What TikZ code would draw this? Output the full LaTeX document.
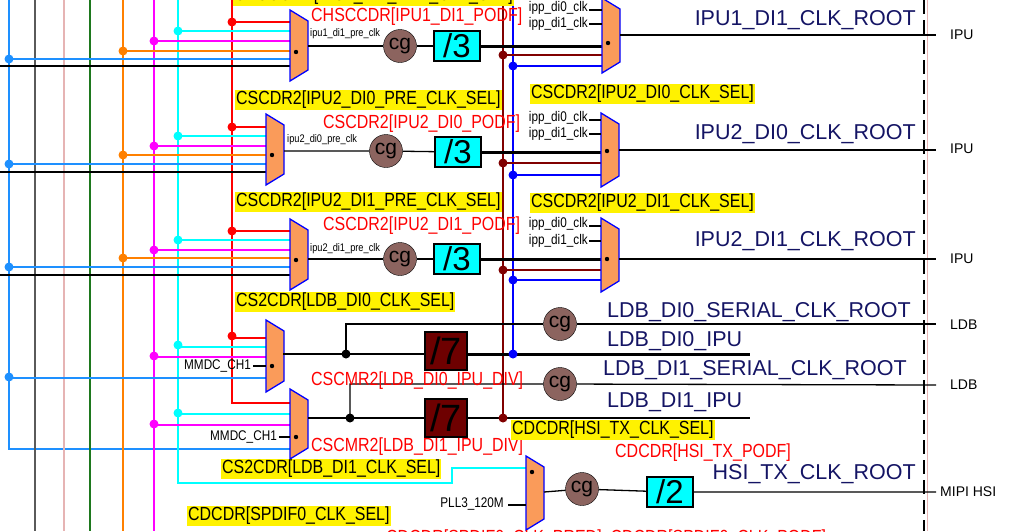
\documentclass[tikz,border=0pt]{standalone}
\usepackage{fontspec}
\setmainfont{Liberation Sans}
\newfontfamily\nar[FakeStretch=0.84]{Liberation Sans}
\usetikzlibrary{shapes.geometric}
\definecolor{cb}{RGB}{30,144,255}
\definecolor{cgr}{RGB}{90,90,90}
\definecolor{cpk}{RGB}{230,180,180}
\definecolor{cdg}{RGB}{30,120,30}
\definecolor{cor}{RGB}{255,128,0}
\definecolor{cmg}{RGB}{255,0,255}
\definecolor{ccy}{RGB}{0,255,255}
\definecolor{crd}{RGB}{255,0,0}
\definecolor{cgn}{RGB}{0,230,0}
\definecolor{cbr}{RGB}{128,0,0}
\definecolor{cbl}{RGB}{0,0,255}
\definecolor{muxf}{RGB}{250,155,90}
\definecolor{cgf}{RGB}{140,100,95}
\definecolor{divr}{RGB}{110,0,0}
\definecolor{navy}{RGB}{20,20,100}
\newcommand\muxat[4]{\draw[muxb] (#1,#2) -- (#1+18,#2+11) -- (#1+18,#2+#3-11) -- (#1,#2+#3) -- cycle; \fill (#1+6,#4) circle (2.2);}
\begin{document}
\begin{tikzpicture}[x=1pt,y=-1pt,
  wl/.style={line width=1.4},
  muxb/.style={draw=cbl,fill=muxf,line width=1.3},
  dot/.style={circle,fill,inner sep=0,minimum size=9},
  ylab/.style={fill=yellow,inner sep=1pt,anchor=west,font=\nar\fontsize{19}{19}\selectfont},
  rlab/.style={text=crd,inner sep=1pt,anchor=west,font=\nar\fontsize{19}{19}\selectfont},
  slab/.style={inner sep=1pt,font=\nar\fontsize{11}{11}\selectfont},
  plab/.style={inner sep=1pt,anchor=east,font=\nar\fontsize{14}{14}\selectfont},
  nlab/.style={text=navy,inner sep=1pt,font=\fontsize{21.5}{21.5}\selectfont},
  olab/.style={inner sep=1pt,anchor=west,font=\fontsize{14}{14}\selectfont},
  cgn/.style={circle,draw,fill=cgf,minimum size=33,inner sep=0,font=\fontsize{21}{21}\selectfont},
  divc/.style={draw,line width=2,fill=ccy,minimum width=46,minimum height=30,inner sep=0,font=\fontsize{33}{33}\selectfont},
  divd/.style={draw,line width=2,fill=divr,minimum width=42,minimum height=38,inner sep=0,font=\fontsize{38}{38}\selectfont},
  thk/.style={line width=3},
  thn/.style={line width=1.3}]
\useasboundingbox (0,0) rectangle (1011,531);
% dashed boundary
\draw[cpk,line width=0.6] (927,0) -- (927,531);
\draw[line width=1.5,dash pattern=on 14 off 6] (924,0) -- (924,531);
% left verticals
\draw[cb,wl] (9,0) -- (9,449) -- (290,449);
\draw[cgr,wl] (35,0) -- (35,531);
\draw[cpk,wl] (64,0) -- (64,531);
\draw[cdg,wl] (90,0) -- (90,531);
\draw[cor,wl] (123,0) -- (123,531);
\draw[cmg,wl] (154,0) -- (154,531);
\draw[ccy,wl] (178,0) -- (178,483) -- (452,483) -- (452,468) -- (526,468);
\draw[crd,wl] (232,0) -- (232,403) -- (290,403);
% feeds
\foreach \yr/\yc/\ym/\yo/\yb/\yg/\xm in {22/31/41/51/59/66/290, 127/136/146/155/164/172/266, 231/240/250/258/267/275/290}{
  \draw[crd,wl] (232,\yr) -- (\xm,\yr); \node[dot,crd] at (232,\yr) {};
  \draw[ccy,wl] (178,\yc) -- (\xm,\yc); \node[dot,ccy] at (178,\yc) {};
  \draw[cmg,wl] (154,\ym) -- (\xm,\ym); \node[dot,cmg] at (154,\ym) {};
  \draw[cor,wl] (123,\yo) -- (\xm,\yo); \node[dot,cor] at (123,\yo) {};
  \draw[cb,wl] (9,\yb) -- (\xm,\yb); \node[dot,cb] at (9,\yb) {};
  \draw[cgn,wl] (0,\yg) -- (\xm,\yg);
}
\draw[crd,wl] (232,338) -- (266,338); \node[dot,crd] at (232,336) {};
\draw[ccy,wl] (178,347) -- (266,347); \node[dot,ccy] at (178,345) {};
\draw[cmg,wl] (154,357) -- (266,357); \node[dot,cmg] at (154,356) {};
\draw[cb,wl] (9,378) -- (266,378); \node[dot,cb] at (9,377) {};
\draw[ccy,wl] (178,414) -- (290,414); \node[dot,ccy] at (178,413) {};
\draw[cmg,wl] (154,425) -- (290,425); \node[dot,cmg] at (154,424) {};
% right buses
\draw[cbr,wl] (503,0) -- (503,418);
\draw[cbl,wl] (513,0) -- (513,354);
\foreach \yb/\yu in {55/66,163/175,270/280}{
  \draw[cbr,wl] (503,\yb) -- (602,\yb); \node[dot,cbr] at (503,\yb) {};
  \draw[cbl,wl] (513,\yu) -- (602,\yu); \node[dot,cbl] at (513,\yu) {};
}
% pre-clock muxes
\muxat{290}{10}{71}{52}
\muxat{266}{114}{71}{155}
\muxat{290}{219}{71}{260}
\node[slab,anchor=west] at (309,34) {ipu1\_di1\_pre\_clk};
\node[slab,anchor=west] at (286,140) {ipu2\_di0\_pre\_clk};
\node[slab,anchor=west] at (309,249) {ipu2\_di1\_pre\_clk};
\node[cgn] (cgA) at (400,46) {cg};
\node[cgn] (cgB) at (386,151) {cg};
\node[cgn] (cgC) at (400,259) {cg};
\node[divc] (dA) at (457,46) {/3};
\node[divc] (dB) at (458,152) {/3};
\node[divc] (dC) at (457,259) {/3};
\draw[thn] (308,46) -- (cgA) -- (dA);
\draw[thn] (284,151) -- (cgB) -- (dB);
\draw[thn] (308,259) -- (cgC) -- (dC);
\draw[thk] (dA) -- (602,46);
\draw[thk] (dB) -- (601,152);
\draw[thk] (dC) -- (601,259);
% IPU muxes
\muxat{602}{-2}{75}{43}
\muxat{601}{113}{74}{151}
\muxat{601}{218}{74}{259}
\foreach \ya/\yb/\xx in {8/24/602,118/134/601,224/241/601}{
  \node[plab] at (589,\ya) {ipp\_di0\_clk}; \draw[thn] (589,\ya+2) -- (\xx,\ya+2);
  \node[plab] at (589,\yb) {ipp\_di1\_clk}; \draw[thn] (589,\yb) -- (\xx,\yb);
}
\draw[thn,line width=1.5] (620,35) -- (936,35);
\draw[thn,line width=1.5] (619,150) -- (936,150);
\draw[thn,line width=1.5] (619,259) -- (936,259);
\node[nlab,anchor=east] at (917,20) {IPU1\_DI1\_CLK\_ROOT};
\node[nlab,anchor=east] at (917,134) {IPU2\_DI0\_CLK\_ROOT};
\node[nlab,anchor=east] at (917,241) {IPU2\_DI1\_CLK\_ROOT};
\node[olab] at (949,35) {IPU};
\node[olab] at (949,149) {IPU};
\node[olab] at (949,259) {IPU};
% labels top part
\node[ylab] at (233,-4) {CHSCCDR[IPU1\_DI1\_PRE\_CLK\_SEL]};
\node[rlab] at (310,17) {CHSCCDR[IPU1\_DI1\_PODF]};
\node[ylab] at (235,100) {CSCDR2[IPU2\_DI0\_PRE\_CLK\_SEL]};
\node[rlab] at (322,124) {CSCDR2[IPU2\_DI0\_PODF]};
\node[ylab] at (235,202) {CSCDR2[IPU2\_DI1\_PRE\_CLK\_SEL]};
\node[rlab] at (322,226) {CSCDR2[IPU2\_DI1\_PODF]};
\node[ylab] at (530,94) {CSCDR2[IPU2\_DI0\_CLK\_SEL]};
\node[ylab] at (530,203) {CSCDR2[IPU2\_DI1\_CLK\_SEL]};
% LDB muxes
\muxat{266}{320}{72}{366}
\muxat{290}{389}{70}{437}
\node[plab] at (252,366) {MMDC\_CH1}; \draw[thn] (253,366) -- (266,366);
\node[plab] at (278,437) {MMDC\_CH1}; \draw[thn] (279,437) -- (290,437);
\node[divd,text=black] (d7a) at (446,351) {/7};
\node[divd,text=black] (d7b) at (446,418) {/7};
\node[cgn] (cgD) at (560,324) {cg};
\node[cgn] (cgE) at (560,384) {cg};
\coordinate (jA) at (346,354);
\coordinate (jB) at (350,418);
\draw[thn] (283,354) -- (jA) -- (d7a.west |- jA);
\draw[thk] (d7a.east |- jA) -- (750,354);
\draw[thn] (jA) |- (cgD) -- (936,324);
\draw[thn] (308,418) -- (jB) -- (d7b.west |- jB);
\draw[thn,line width=1.8] (d7b.east |- jB) -- (750,418);
\draw[thn] (jB) |- (cgE) -- (936,385);
\fill (jA) circle (4.5); \fill (jB) circle (4.5);
\node[dot,cbl] at (513,354) {};
\node[dot,cbr] at (503,418) {};
\node[nlab,anchor=west] at (606,312) {LDB\_DI0\_SERIAL\_CLK\_ROOT};
\node[nlab,anchor=west] at (606,341) {LDB\_DI0\_IPU};
\node[nlab,anchor=west] at (602,370) {LDB\_DI1\_SERIAL\_CLK\_ROOT};
\node[nlab,anchor=west] at (606,402) {LDB\_DI1\_IPU};
\node[olab] at (949,325) {LDB};
\node[olab] at (949,385) {LDB};
\node[ylab] at (235,302) {CS2CDR[LDB\_DI0\_CLK\_SEL]};
\node[rlab] at (310,381) {CSCMR2[LDB\_DI0\_IPU\_DIV]};
\node[rlab] at (310,447) {CSCMR2[LDB\_DI1\_IPU\_DIV]};
\node[ylab] at (221,469) {CS2CDR[LDB\_DI1\_CLK\_SEL]};
\node[ylab] at (511,430) {CDCDR[HSI\_TX\_CLK\_SEL]};
\node[rlab] at (614,453) {CDCDR[HSI\_TX\_PODF]};
% HSI
\muxat{526}{456}{74}{472}
\node[plab] at (505,504) {PLL3\_120M}; \draw[thn] (508,505) -- (526,505);
\node[cgn] (cgH) at (582,489) {cg};
\node[divc] (d2) at (670,492) {/2};
\draw[thn] (544,492) -- (cgH) -- (d2) -- (936,492);
\node[nlab,anchor=east] at (917,474) {HSI\_TX\_CLK\_ROOT};
\node[olab] at (939,492) {MIPI HSI};
\node[ylab] at (187,516) {CDCDR[SPDIF0\_CLK\_SEL]};
\node[rlab] at (385,539) {CDCDR[SPDIF0\_CLK\_PRED]\ \ CDCDR[SPDIF0\_CLK\_PODF]};
\end{tikzpicture}
\end{document}
